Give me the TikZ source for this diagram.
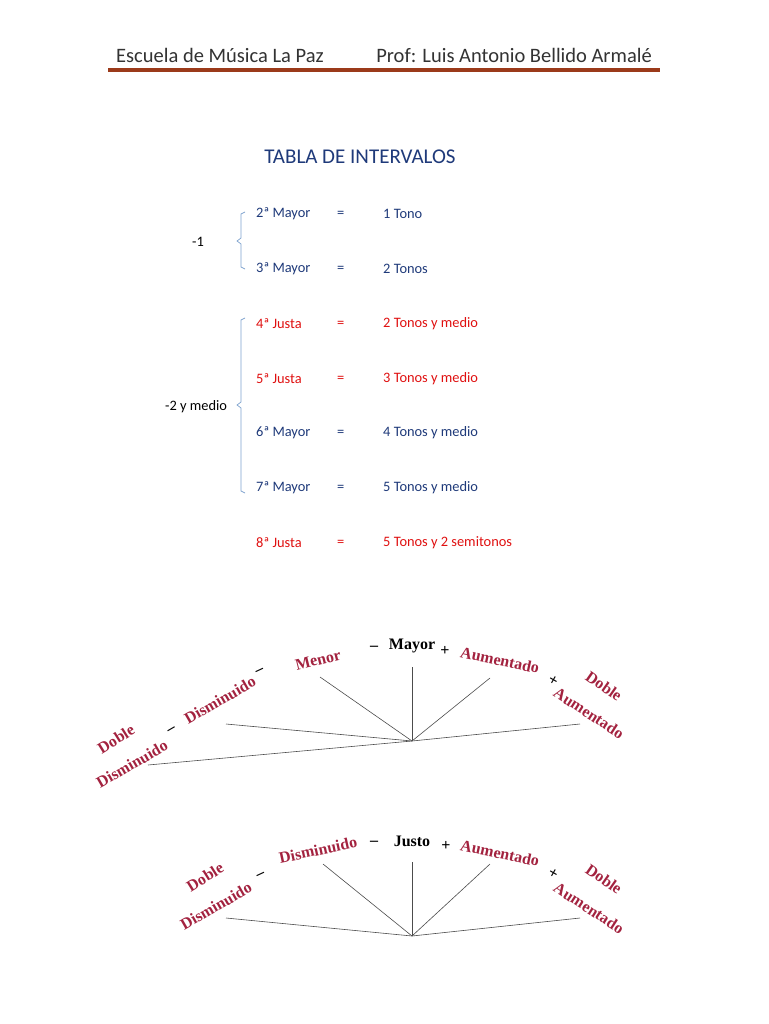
\documentclass[tikz,border=0pt]{standalone}
\usepackage{fontspec}
\setmainfont{Carlito}
\newfontfamily\fanfont{Liberation Serif}
\begin{document}
\begin{tikzpicture}[x=1pt,y=-1pt]
\definecolor{tblue}{HTML}{1F3A7A}
\definecolor{tred}{HTML}{E01010}
\definecolor{fred}{HTML}{A3223F}
\definecolor{hline}{HTML}{9B3A1A}
\definecolor{brc}{HTML}{7FA3CF}
\tikzset{
 hdr/.style={font=\fontsize{20.5}{22}\selectfont, text=black!80, inner sep=0},
 tb/.style={font=\fontsize{14.4}{16}\selectfont, text=tblue, anchor=west, inner sep=0},
 tr/.style={font=\fontsize{14.4}{16}\selectfont, text=tred, anchor=west, inner sep=0},
 tk/.style={font=\fontsize{14.4}{16}\selectfont, text=black, anchor=west, inner sep=0},
 fl/.style={font=\fanfont\bfseries\fontsize{16}{18}\selectfont, text=fred, inner sep=0},
 fk/.style={font=\fanfont\bfseries\fontsize{16}{18}\selectfont, text=black, inner sep=0},
 fan/.style={draw=black!70, line width=0.6pt},
 brace/.style={draw=brc, line width=0.7pt}
}
\useasboundingbox[fill=white] (0,0) rectangle (768,1024);
% header
\node[hdr, anchor=west] (h1) at (116,55) {Escuela de Música La Paz};
\node[hdr, anchor=east] (h2) at (652,55) {Prof: Luis Antonio Bellido Armalé};
\draw[hline, line width=3.5pt] (108,70) -- (660,70);
\node[font=\fontsize{21}{24}\selectfont, text=tblue, inner sep=0] (title) at (360,157) {TABLA DE INTERVALOS};
% table
\foreach \y/\a/\b/\s [count=\i] in {214/2ª Mayor/1 Tono/tb, 269/3ª Mayor/2 Tonos/tb, 324/4ª Justa/2 Tonos y medio/tr, 379/5ª Justa/3 Tonos y medio/tr, 433/6ª Mayor/4 Tonos y medio/tb, 488/7ª Mayor/5 Tonos y medio/tb, 543/8ª Justa/5 Tonos y 2 semitonos/tr}{
 \node[\s] (a\i) at (256,\y) {\a};
 \node[\s] (e\i) at (337,\y) {=};
 \node[\s] (b\i) at (383,\y) {\b};
}
\node[tk] (m1) at (192,242) {-1};
\node[tk] (m2) at (165,407) {-2 y medio};
\draw[brace] (245,212) -- (241,214) -- (241,238) -- (237,241) -- (241,244) -- (241,267) -- (245,269);
\draw[brace] (245,318) -- (241,320) -- (241,402) -- (237,405) -- (241,408) -- (241,491) -- (245,493);
% fan 1
\coordinate (c1) at (412,741);
\coordinate (p11) at (226,724); \coordinate (p12) at (320,677);
\coordinate (p13) at (412,667); \coordinate (p14) at (490,678);
\coordinate (p15) at (580,724); \coordinate (p16) at (148,765);
\foreach \p in {p11,p12,p13,p14,p15,p16} \draw[fan] (c1) -- (\p);
\node[fl, rotate=32] (d1) at (116,739) {Doble};
\node[fl, rotate=30] (d2) at (132,764) {Disminuido};
\node[fk, rotate=30] (s1) at (172,731) {–};
\node[fl, rotate=30] (d3) at (220,700) {Disminuido};
\node[fk, rotate=25] (s2) at (260,672) {–};
\node[fl, rotate=14] (d4) at (318,660) {Menor};
\node[fk] (s3) at (374,648) {–};
\node[fk] (d5) at (412,646) {Mayor};
\node[fk] (s4) at (445,651) {+};
\node[fl, rotate=-12] (d6) at (500,660) {Aumentado};
\node[fk, rotate=-30] (s5) at (553,681) {+};
\node[fl, rotate=-35] (d7) at (604,686) {Doble};
\node[fl, rotate=-33] (d8) at (589,713) {Aumentado};
% fan 2
\coordinate (c2) at (412,936);
\coordinate (p21) at (226,918); \coordinate (p22) at (323,864);
\coordinate (p23) at (412,862); \coordinate (p24) at (490,864);
\coordinate (p25) at (580,918);
\foreach \p in {p21,p22,p23,p24,p25} \draw[fan] (c2) -- (\p);
\node[fl, rotate=32] (g1) at (205,877) {Doble};
\node[fl, rotate=30] (g2) at (216,906) {Disminuido};
\node[fk, rotate=25] (t1) at (261,876) {–};
\node[fl, rotate=12] (g3) at (318,850) {Disminuido};
\node[fk] (t2) at (374,843) {–};
\node[fk] (g4) at (412,841) {Justo};
\node[fk] (t3) at (446,846) {+};
\node[fl, rotate=-12] (g5) at (500,853) {Aumentado};
\node[fk, rotate=-30] (t4) at (553,874) {+};
\node[fl, rotate=-35] (g6) at (604,879) {Doble};
\node[fl, rotate=-33] (g7) at (589,908) {Aumentado};
\end{tikzpicture}
\end{document}
